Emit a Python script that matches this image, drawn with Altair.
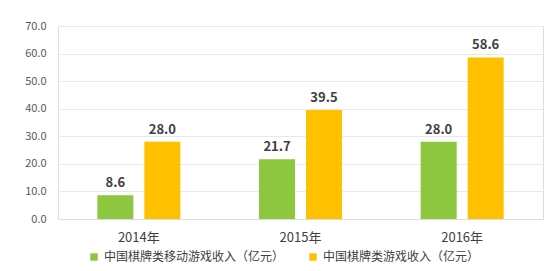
import altair as alt
import pandas as pd

years = ["2014年", "2015年", "2016年"]
series = ["中国棋牌类移动游戏收入（亿元）", "中国棋牌类游戏收入（亿元）"]
mobile = [8.6, 21.7, 28.0]
total = [28.0, 39.5, 58.6]
colors = ["#8DC63F", "#FFC000"]
y_ticks = [0, 10, 20, 30, 40, 50, 60, 70]

rows = []
for i, y in enumerate(years):
    rows.append({"year": y, "series": series[0], "value": mobile[i], "order": 0})
    rows.append({"year": y, "series": series[1], "value": total[i], "order": 1})
df = pd.DataFrame(rows)

FONT = "Noto Sans CJK SC"

x = alt.X("year:N", sort=years, title=None,
          scale=alt.Scale(paddingInner=0, paddingOuter=0),
          axis=alt.Axis(labelAngle=0, labelFontSize=13, labelColor="#404040",
                        labelPadding=12, ticks=False, domain=True,
                        domainColor="#dddddd", labelFont=FONT))
xo = alt.XOffset("series:N", sort=series,
                 scale=alt.Scale(paddingInner=0.234, paddingOuter=0.837))
y = alt.Y("value:Q", title=None,
          scale=alt.Scale(domain=[0, 70], nice=False),
          axis=alt.Axis(values=y_ticks, format=".1f", labelFontSize=11,
                        labelColor="#595959", ticks=False, domain=False,
                        gridColor="#e8e8e8", labelPadding=12, labelFont=FONT))

bars = alt.Chart(df).mark_bar().encode(
    x=x, xOffset=xo, y=y,
    color=alt.Color("series:N", sort=series,
                    scale=alt.Scale(domain=series, range=colors),
                    legend=alt.Legend(title=None, orient="none", legendX=30, legendY=225,
                                      direction="horizontal", symbolType="square",
                                      symbolSize=55, labelFontSize=12, labelColor="#404040",
                                      labelFont=FONT, columnPadding=22, symbolStrokeWidth=0,
                                      labelLimit=400)),
)

labels = alt.Chart(df).mark_text(dy=-12, fontSize=13, fontWeight="bold",
                                 color="#404040", font=FONT).encode(
    x=x, xOffset=xo, y=y,
    text=alt.Text("value:Q", format=".1f"),
)

chart = (bars + labels).properties(
    width=485, height=193,
    autosize=alt.AutoSizeParams(type="none"),
    padding={"left": 58, "top": 26, "right": 7, "bottom": 52},
).configure_view(stroke=None).configure(font=FONT, background="white")

chart.save("out.html", embed_options={"renderer": "svg", "actions": False})
